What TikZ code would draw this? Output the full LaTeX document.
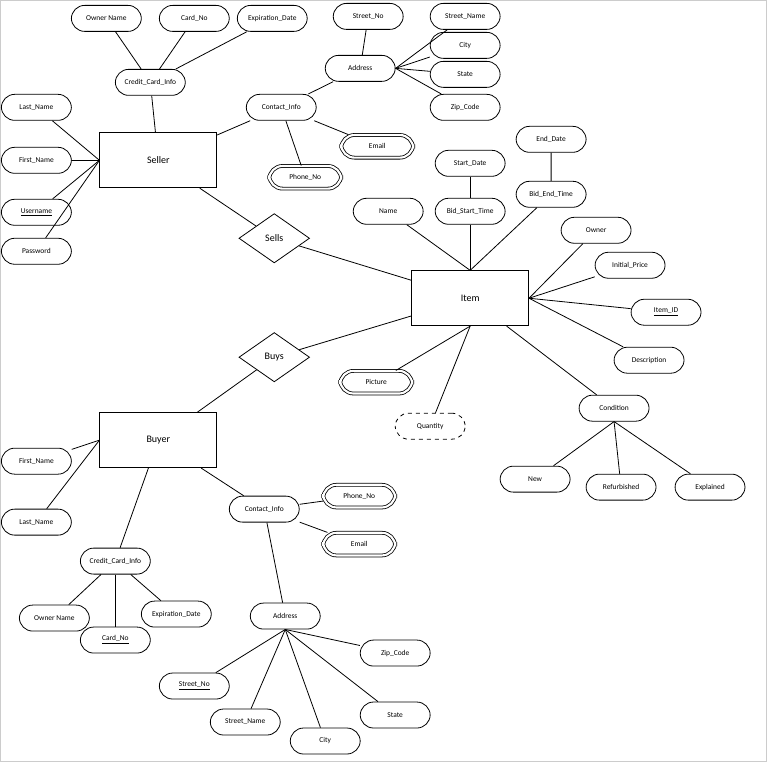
\documentclass[tikz,border=0pt]{standalone}
\usepackage{fontspec}
\setmainfont{Carlito}
\usetikzlibrary{shapes.geometric}
\begin{document}
\begin{tikzpicture}[x=0.75pt,y=-0.75pt,font=\fontsize{5.6}{6}\selectfont,
 attr/.style={draw,rounded corners=10pt,minimum width=52.5pt,minimum height=19.5pt,inner sep=1pt,line width=0.6pt},
 wattr/.style={attr,minimum width=57pt},
 dattr/.style={attr,double,double distance=1.6pt,minimum width=54pt,minimum height=17pt},
 ent/.style={draw,minimum width=87.75pt,minimum height=41.25pt,font=\fontsize{7.5}{8}\selectfont,line width=0.6pt},
 rel/.style={draw,diamond,aspect=1.4,minimum width=53pt,minimum height=37pt,inner sep=0pt,font=\fontsize{7.5}{8}\selectfont,line width=0.6pt},
 every path/.style={line width=0.6pt}]
\draw[gray!40] (0,0) rectangle (766,761);
\useasboundingbox (0,0) rectangle (767,762);
% Seller side
\node[ent] (seller) at (158,160) {Seller};
\node[attr] (on1) at (106,18) {Owner Name};
\node[attr] (cn1) at (194,18) {Card\_No};
\node[attr] (ed1) at (272,18) {Expiration\_Date};
\node[attr] (cc1) at (150,82) {Credit\_Card\_Info};
\node[attr] (sn1) at (368,16) {Street\_No};
\node[attr] (stn1) at (465,16) {Street\_Name};
\node[attr] (ci1) at (465,45) {City};
\node[attr] (st1) at (465,74) {State};
\node[attr] (zc1) at (465,107) {Zip\_Code};
\node[attr] (ad1) at (360,68) {Address};
\node[attr] (co1) at (281,107) {Contact\_Info};
\node[dattr] (em1) at (377,146) {Email};
\node[dattr] (ph1) at (305,177) {Phone\_No};
\node[attr] (ln1) at (36,107) {Last\_Name};
\node[attr] (fn1) at (36,160) {First\_Name};
\node[attr] (un1) at (36,212) {\underline{Username}};
\node[attr] (pw1) at (36,251) {Password};
\foreach \a in {on1,cn1,ed1} \draw (\a) -- (cc1);
\draw (cc1) -- (seller);
\draw (seller) -- (co1);
\draw (co1) -- (ad1);
\draw (ad1) -- (sn1);
\foreach \a in {stn1,ci1,st1,zc1} \draw (ad1.east) -- (\a);
\draw (co1) -- (em1);
\draw (co1) -- (ph1);
\foreach \a in {ln1,fn1,un1,pw1} \draw (\a) -- (seller.west);
% relationships
\node[rel] (sells) at (274,238) {Sells};
\node[rel] (buys) at (274,357) {Buys};
\node[ent] (item) at (470,298) {Item};
\draw (seller) -- (sells) -- (item);
% Item attrs
\node[attr] (nm) at (388,211) {Name};
\node[attr] (bst) at (470,211) {Bid\_Start\_Time};
\node[attr] (sd) at (470,163) {Start\_Date};
\node[attr] (end) at (551,139) {End\_Date};
\node[attr] (bet) at (551,194) {Bid\_End\_Time};
\node[attr] (ow) at (596,230) {Owner};
\node[attr] (ip) at (630,265) {Initial\_Price};
\node[attr] (iid) at (666,312) {\underline{Item\_ID}};
\node[attr] (de) at (649,360) {Description};
\node[attr] (cond) at (614,408) {Condition};
\node[attr] (new) at (535,479) {New};
\node[attr] (ref) at (621,487) {Refurbished};
\node[attr] (exp) at (710,487) {Explained};
\node[dattr] (pic) at (376,382) {Picture};
\node[attr,dashed] (qty) at (430,426) {Quantity};
\draw (nm) -- (item.north);
\draw (sd) -- (bst) -- (item.north);
\draw (end) -- (bet) -- (item.north);
\foreach \a in {ow,ip,iid,de} \draw (item.east) -- (\a);
\draw (item) -- (cond);
\foreach \a in {new,ref,exp} \draw (cond.south) -- (\a);
\draw (item.south) -- (pic);
\draw (item.south) -- (qty);
% Buyer
\node[ent] (buyer) at (158,440) {Buyer};
\draw (item) -- (buys) -- (buyer);
\node[attr] (fn2) at (36,461) {First\_Name};
\node[attr] (ln2) at (36,522) {Last\_Name};
\draw (fn2) -- (buyer.west); \draw (ln2) -- (buyer.west);
\node[attr] (co2) at (264,509) {Contact\_Info};
\node[dattr] (ph2) at (359,496) {Phone\_No};
\node[dattr] (em2) at (359,544) {Email};
\draw (buyer) -- (co2);
\draw (co2) -- (ph2); \draw (co2) -- (em2);
\node[attr] (cc2) at (115,561) {Credit\_Card\_Info};
\node[attr] (on2) at (54,618) {Owner Name};
\node[attr] (cn2) at (115,640) {\underline{Card\_No}};
\node[attr] (ed2) at (176,614) {Expiration\_Date};
\draw (buyer) -- (cc2);
\foreach \a in {on2,cn2,ed2} \draw (cc2) -- (\a);
\node[attr] (ad2) at (285,616) {Address};
\node[attr] (zc2) at (395,653) {Zip\_Code};
\node[attr] (sn2) at (194,686) {\underline{Street\_No}};
\node[attr] (stn2) at (245,722) {Street\_Name};
\node[attr] (ci2) at (325,741) {City};
\node[attr] (st2) at (395,715) {State};
\draw (co2) -- (ad2);
\foreach \a in {zc2,sn2,stn2,ci2,st2} \draw (ad2.south) -- (\a);
\end{tikzpicture}
\end{document}
